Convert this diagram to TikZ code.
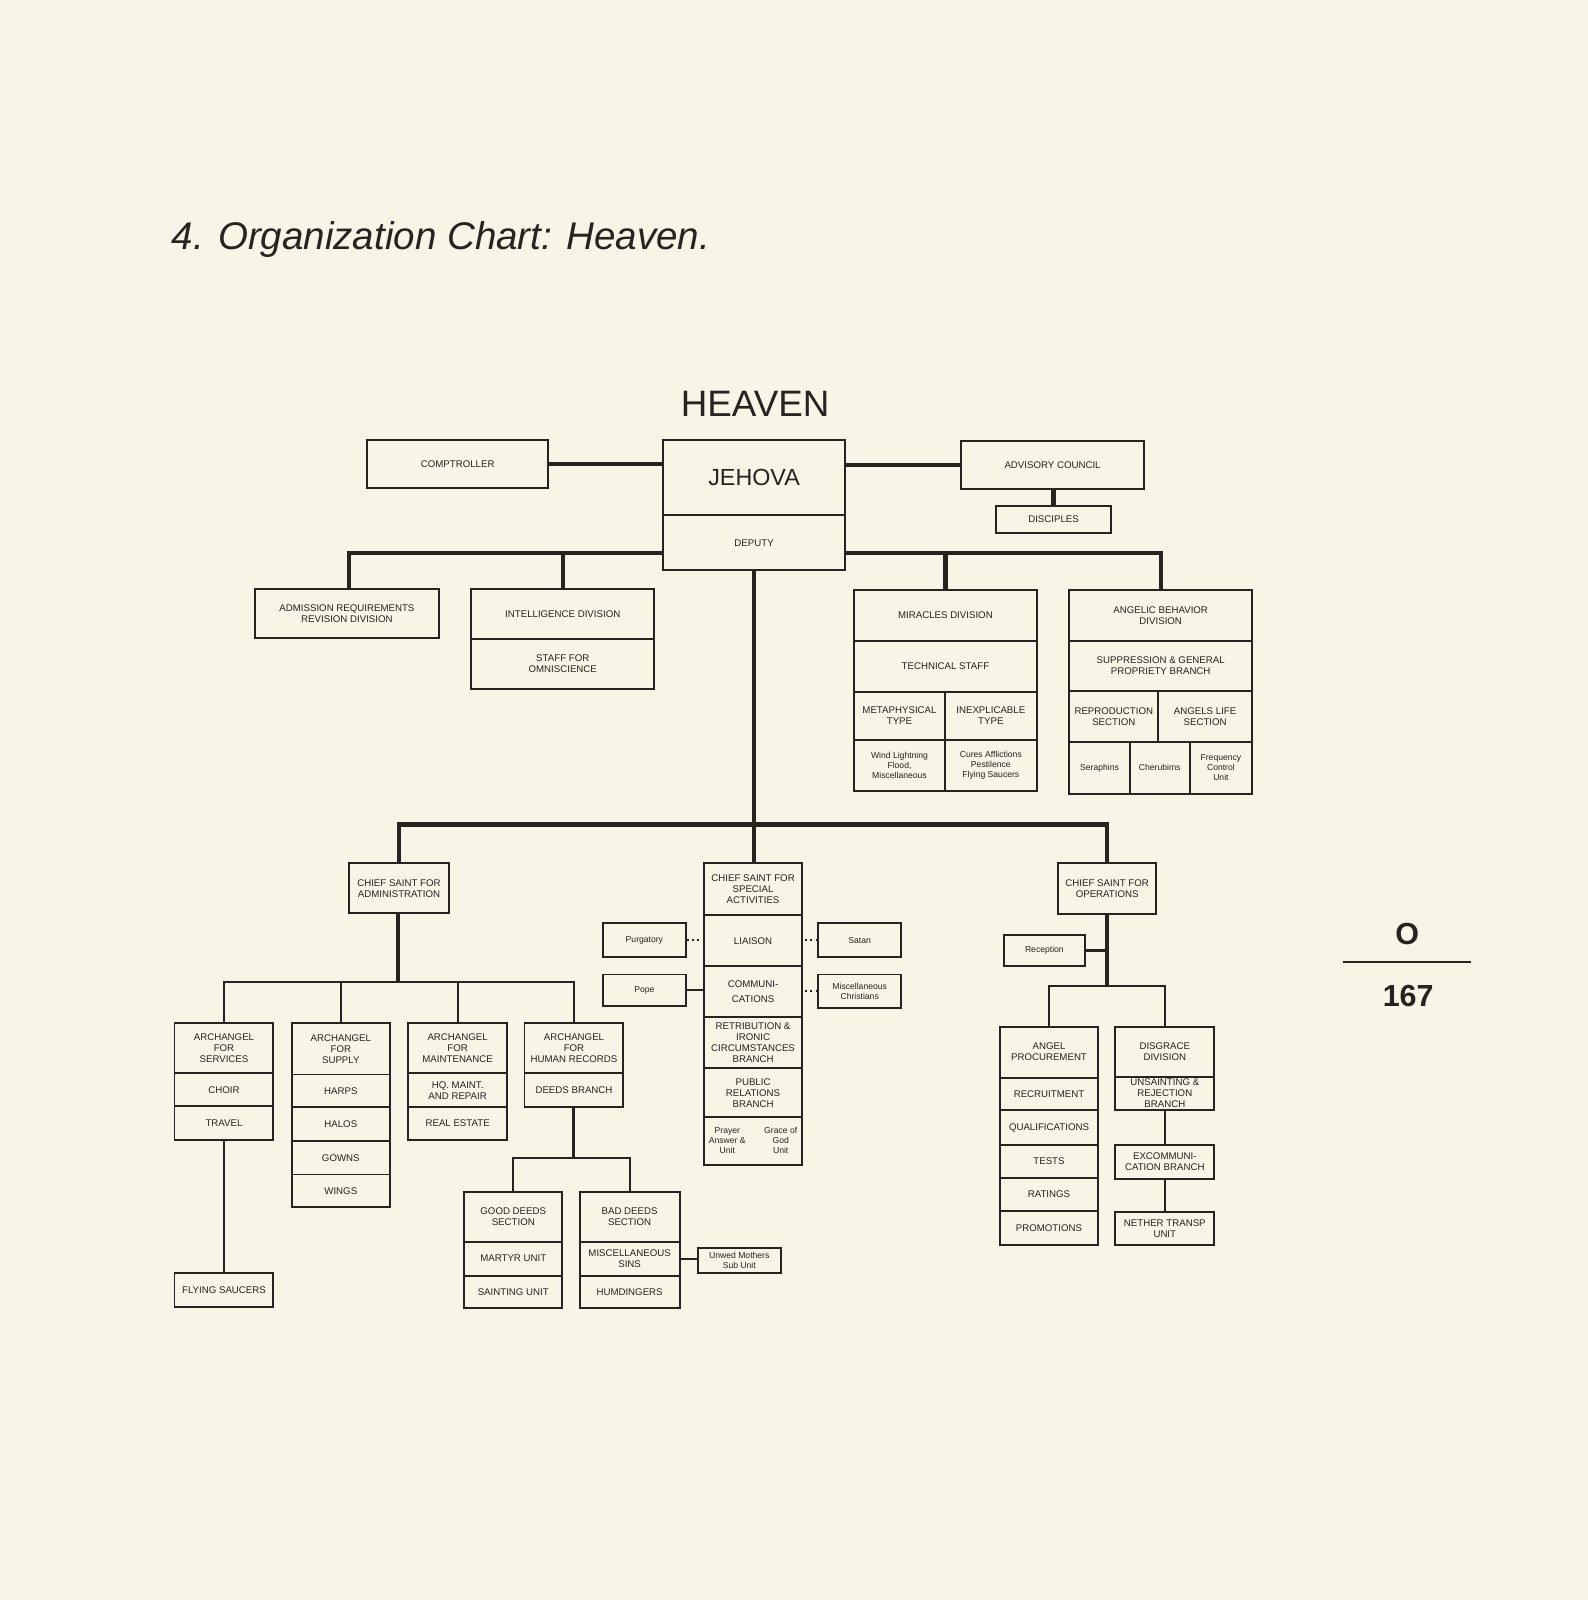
\documentclass[tikz,border=0pt]{standalone}
\usepackage{fontspec}
\setmainfont{Liberation Sans}
\definecolor{paper}{HTML}{F7F5E6}
\definecolor{ink}{HTML}{262320}
\tikzset{
 box/.style={draw=ink,line width=1.1pt,inner sep=1pt,align=center,text=ink,font=\fontsize{5.4}{6.2}\selectfont},
 sbox/.style={box,font=\fontsize{4.8}{5.6}\selectfont},
 ln/.style={draw=ink,line width=1.2pt},
 bus/.style={draw=ink,line width=2.4pt},
 dl/.style={draw=ink,line width=1pt,dotted}
}
\newcommand\bx[7][box]{\node[#1,minimum width={(#5-#3)*0.02cm},minimum height={(#6-#4)*0.02cm}] (#2) at ({(#3+#5)/2},{(#4+#6)/2}) {#7};}
\begin{document}
\begin{tikzpicture}[x=0.02cm,y=-0.02cm]
\fill[paper] (0,0) rectangle (1556,1568);
\useasboundingbox (0,0) rectangle (1556,1568);
\node[anchor=west,text=ink,font=\fontsize{21.5}{25}\selectfont\itshape] (title) at (162,235) {4. Organization Chart: Heaven.};
\node[text=ink,font=\fontsize{20.5}{24}\selectfont] (heaven) at (740,396) {HEAVEN};
% top
\bx{comp}{360}{431}{537}{478}{COMPTROLLER}
\bx[box,font=\fontsize{13}{15}\selectfont]{jeh}{650}{431}{828}{505}{JEHOVA}
\bx{dep}{650}{505}{828}{559}{DEPUTY}
\bx{adv}{942}{432}{1121}{479}{ADVISORY COUNCIL}
\bx{disc}{976}{496}{1089}{522}{DISCIPLES}
\draw[bus] (comp.east) -- (comp.east -| jeh.west);
\draw[bus] (jeh.east |- adv.west) -- (adv.west);
\draw[bus] (disc.north |- adv.south) -- (disc.north);
% upper divisions
\bx{adm}{250}{577}{430}{625}{ADMISSION REQUIREMENTS\\REVISION DIVISION}
\bx{int}{462}{577}{641}{626}{INTELLIGENCE DIVISION}
\bx{omn}{462}{626}{641}{675}{STAFF FOR\\OMNISCIENCE}
\bx{mir}{837}{578}{1016}{628}{MIRACLES DIVISION}
\bx{tech}{837}{628}{1016}{678}{TECHNICAL STAFF}
\bx{meta}{837}{678}{926}{725}{METAPHYSICAL\\TYPE}
\bx{inex}{926}{678}{1016}{725}{INEXPLICABLE\\TYPE}
\bx[sbox]{wind}{837}{725}{926}{775}{Wind Lightning\\Flood,\\Miscellaneous}
\bx[sbox]{cures}{926}{725}{1016}{775}{Cures Afflictions\\Pestilence\\Flying Saucers}
\bx{ang}{1048}{578}{1227}{628}{ANGELIC BEHAVIOR\\DIVISION}
\bx{supp}{1048}{628}{1227}{677}{SUPPRESSION \& GENERAL\\PROPRIETY BRANCH}
\bx{repr}{1048}{677}{1135}{727}{REPRODUCTION\\SECTION}
\bx{life}{1135}{677}{1227}{727}{ANGELS LIFE\\SECTION}
\bx[sbox]{sera}{1048}{727}{1107}{778}{Seraphins}
\bx[sbox]{cher}{1107}{727}{1166}{778}{Cherubims}
\bx[sbox]{freq}{1166}{727}{1227}{778}{Frequency\\Control\\Unit}
\coordinate (bl) at (342,542); \coordinate (br) at (1138,542);
\draw[bus] (dep.west |- bl) -- (bl) -- (adm.north -| bl);
\draw[bus] (int.north |- bl) -- (int.north);
\draw[bus] (dep.east |- br) -- (br) -- (ang.north -| br);
\draw[bus] (mir.north |- br) -- (mir.north);
% middle bus
\bx{csa}{342}{846}{440}{895}{CHIEF SAINT FOR\\ADMINISTRATION}
\bx{css}{690}{846}{786}{897}{CHIEF SAINT FOR\\SPECIAL\\ACTIVITIES}
\bx{cso}{1037}{846}{1133}{896}{CHIEF SAINT FOR\\OPERATIONS}
\coordinate (m) at (739,808);
\draw[bus] (dep.south -| m) -- (css.north -| m);
\draw[bus] (csa.north) -- (csa.north |- m) -- (cso.north |- m) -- (cso.north);
% special
\bx{lia}{690}{897}{786}{947}{LIAISON}
\bx{com}{690}{947}{786}{997}{COMMUNI-\\[2pt]CATIONS}
\bx{ret}{690}{997}{786}{1047}{RETRIBUTION \&\\IRONIC\\CIRCUMSTANCES\\BRANCH}
\bx{pub}{690}{1047}{786}{1095}{PUBLIC\\RELATIONS\\BRANCH}
\bx[sbox]{pray}{690}{1095}{786}{1142}{}
\node[sbox,draw=none,anchor=west] (pa) at (692,1118) {Prayer\\Answer \&\\Unit};
\node[sbox,draw=none,anchor=east] (pg) at (784,1118) {Grace of\\God\\Unit};
\bx[sbox]{purg}{591}{905}{672}{938}{Purgatory}
\bx[sbox]{sat}{802}{905}{883}{938}{Satan}
\bx[sbox]{pope}{591}{955}{672}{986}{Pope}
\bx[sbox]{misc}{802}{955}{883}{988}{Miscellaneous\\Christians}
\draw[dl] (purg.east) -- (purg.east -| lia.west);
\draw[dl] (sat.west) -- (sat.west -| lia.east);
\draw[ln] (pope.east) -- (pope.east -| com.west);
\draw[dl] (misc.west) -- (misc.west -| com.east);
% operations
\bx[sbox]{rec}{984}{916}{1063}{947}{Reception}
\bx{apr}{980}{1006}{1076}{1056}{ANGEL\\PROCUREMENT}
\bx{recr}{980}{1056}{1076}{1088}{RECRUITMENT}
\bx{qual}{980}{1088}{1076}{1122}{QUALIFICATIONS}
\bx{tests}{980}{1122}{1076}{1154}{TESTS}
\bx{rat}{980}{1154}{1076}{1187}{RATINGS}
\bx{prom}{980}{1187}{1076}{1220}{PROMOTIONS}
\bx{disg}{1093}{1006}{1190}{1055}{DISGRACE\\DIVISION}
\bx{uns}{1093}{1055}{1190}{1088}{UNSAINTING \&\\REJECTION\\BRANCH}
\bx{exc}{1093}{1122}{1190}{1155}{EXCOMMUNI-\\CATION BRANCH}
\bx{neth}{1093}{1188}{1190}{1220}{NETHER TRANSP\\UNIT}
\coordinate (ob) at (1085,966);
\draw[bus] (cso.south) -- (ob);
\draw[ln] (rec.east) -- (rec.east -| cso.south);
\draw[ln] (apr.north) -- (apr.north |- ob) -- (disg.north |- ob) -- (disg.north);
\draw[ln] (uns.south) -- (exc.north);
\draw[ln] (exc.south) -- (neth.north);
% administration
\bx{ser}{171}{1003}{268}{1052}{ARCHANGEL\\FOR\\SERVICES}
\bx{choir}{171}{1052}{268}{1084}{CHOIR}
\bx{trav}{171}{1084}{268}{1117}{TRAVEL}
\bx{fly}{171}{1248}{268}{1281}{FLYING SAUCERS}
\bx{sup}{286}{1003}{382}{1053}{ARCHANGEL\\FOR\\SUPPLY}
\bx{harps}{286}{1053}{382}{1085}{HARPS}
\bx{halos}{286}{1085}{382}{1118}{HALOS}
\bx{gowns}{286}{1118}{382}{1151}{GOWNS}
\bx{wings}{286}{1151}{382}{1183}{WINGS}
\bx{mai}{400}{1003}{497}{1052}{ARCHANGEL\\FOR\\MAINTENANCE}
\bx{hq}{400}{1052}{497}{1085}{HQ. MAINT.\\AND REPAIR}
\bx{real}{400}{1085}{497}{1117}{REAL ESTATE}
\bx{hum}{514}{1003}{611}{1052}{ARCHANGEL\\FOR\\HUMAN RECORDS}
\bx{deeds}{514}{1052}{611}{1085}{DEEDS BRANCH}
\coordinate (ab) at (390,962);
\draw[bus] (csa.south -| ab) -- (ab);
\draw[ln] (ser.north) -- (ser.north |- ab) -- (hum.north |- ab) -- (hum.north);
\draw[ln] (sup.north) -- (sup.north |- ab);
\draw[ln] (mai.north) -- (mai.north |- ab);
\draw[ln] (trav.south) -- (fly.north);
\bx{good}{455}{1168}{551}{1217}{GOOD DEEDS\\SECTION}
\bx{mart}{455}{1217}{551}{1250}{MARTYR UNIT}
\bx{saint}{455}{1250}{551}{1282}{SAINTING UNIT}
\bx{bad}{568}{1168}{666}{1217}{BAD DEEDS\\SECTION}
\bx{msins}{568}{1217}{666}{1250}{MISCELLANEOUS\\SINS}
\bx{humd}{568}{1250}{666}{1282}{HUMDINGERS}
\bx[sbox]{unwed}{684}{1223}{765}{1248}{Unwed Mothers\\Sub Unit}
\coordinate (db) at (562,1135);
\draw[ln] (deeds.south -| db) -- (db);
\draw[ln] (good.north) -- (good.north |- db) -- (bad.north |- db) -- (bad.north);
\draw[ln] (msins.east) -- (msins.east -| unwed.west);
% page mark
\node[text=ink,font=\fontsize{17}{20}\selectfont\bfseries] (o) at (1379,915) {O};
\node[text=ink,font=\fontsize{17}{20}\selectfont\bfseries] (pg167) at (1380,976) {167};
\draw[ln] (1316,943) -- (1442,943);
\end{tikzpicture}
\end{document}
